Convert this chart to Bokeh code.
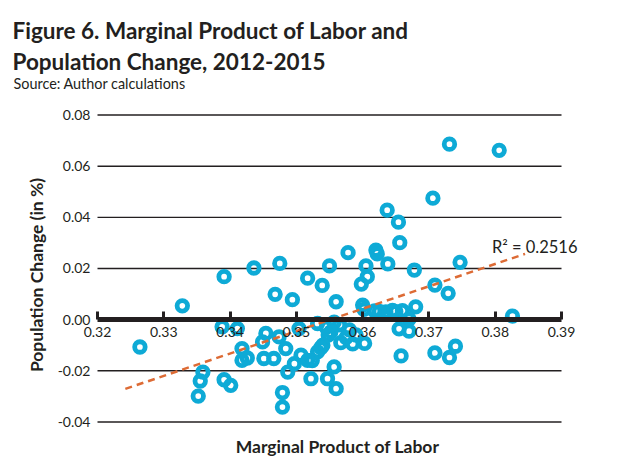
import numpy as np
from bokeh.plotting import figure
from bokeh.models import Label, Range1d, FixedTicker, NumeralTickFormatter
from bokeh.embed import file_html
from bokeh.resources import INLINE

# Marginal product of labor (x) and population change (y), one entry per area
mpl = [
    0.3731, 0.3806, 0.3706, 0.3637, 0.3654, 0.3656, 0.3578, 0.3620, 0.3622,
    0.3638, 0.3605, 0.3607, 0.3598, 0.3678, 0.3747, 0.3709, 0.3729, 0.3680,
    0.3826, 0.3391, 0.3436, 0.3475, 0.3550, 0.3517, 0.3539, 0.3468, 0.3494,
    0.3560, 0.3600, 0.3602, 0.3328, 0.3264,
    0.3618, 0.3635, 0.3650, 0.3660, 0.3645, 0.3670, 0.3625,
    0.3655, 0.3670, 0.3603, 0.3658, 0.3709, 0.3731, 0.3740,
    0.3557, 0.3565, 0.3545, 0.3580, 0.3552, 0.3575, 0.3590, 0.3567, 0.3548,
    0.3585, 0.3540, 0.3557, 0.3560, 0.3547, 0.3532, 0.3532, 0.3537, 0.3524,
    0.3522,
    0.3388, 0.3411, 0.3418, 0.3418, 0.3426, 0.3454, 0.3449, 0.3451, 0.3466,
    0.3474, 0.3484, 0.3504, 0.3497, 0.3487, 0.3507, 0.3517, 0.3479, 0.3479,
    0.3391, 0.3401, 0.3359, 0.3355, 0.3352,
]
pop_change = [
    0.0686, 0.0662, 0.0475, 0.0428, 0.0381, 0.0301, 0.0262, 0.0272, 0.0257,
    0.0218, 0.0210, 0.0168, 0.0139, 0.0194, 0.0224, 0.0135, 0.0103, 0.0050,
    0.0014, 0.0168, 0.0202, 0.0220, 0.0210, 0.0162, 0.0134, 0.0099, 0.0078,
    0.0070, 0.0057, 0.0040, 0.0054, -0.0107,
    0.0034, 0.0030, 0.0031, 0.0035, 0.0036, 0.0002, 0.0032,
    -0.0036, -0.0045, -0.0093, -0.0142, -0.0130, -0.0148, -0.0104,
    -0.0010, -0.0020, -0.0030, -0.0040, -0.0048, -0.0070, -0.0060, -0.0090, -0.0060,
    -0.0095, -0.0100, -0.0185, -0.0270, -0.0231, -0.0015, -0.0126, -0.0110, -0.0160,
    -0.0231,
    -0.0028, -0.0035, -0.0113, -0.0159, -0.0150, -0.0054, -0.0087, -0.0152, -0.0152,
    -0.0067, -0.0113, -0.0035, -0.0172, -0.0205, -0.0139, -0.0159, -0.0285, -0.0342,
    -0.0235, -0.0257, -0.0205, -0.0240, -0.0299,
]

x_ticks = [0.32, 0.33, 0.34, 0.35, 0.36, 0.37, 0.38, 0.39]
y_ticks = [-0.04, -0.02, 0.00, 0.02, 0.04, 0.06, 0.08]
r_squared = 0.2516
trend_x = [0.3242, 0.3845]

INK = "#231f20"
CYAN = "#0eaad6"
ORANGE = "#dd6b35"
FONT = "Lato"

W, H = 620, 464
# The plotting frame fills the whole canvas; the ranges are chosen so that the
# 0.32-0.39 by -0.04-0.08 box sits with room for headings around it.
p = figure(
    width=W, height=H,
    x_range=Range1d(0.305367, 0.398900), y_range=Range1d(-0.056641, 0.124792),
    output_backend="svg", toolbar_location=None,
    min_border=0, min_border_left=0, min_border_right=0,
    min_border_top=0, min_border_bottom=0,
)
p.outline_line_color = None
p.background_fill_color = "white"
p.border_fill_color = "white"
p.grid.visible = False

# horizontal rules at the y ticks (zero is covered by the x axis)
rule_y = [t for t in y_ticks if t != 0]
p.segment(x0=[x_ticks[0]] * len(rule_y), x1=[x_ticks[-1]] * len(rule_y),
          y0=rule_y, y1=rule_y, line_color=INK, line_width=1.4)

# y axis pinned at the left edge of the data box: labels only
p.yaxis.fixed_location = x_ticks[0]
p.yaxis.bounds = (-0.045, y_ticks[-1])
p.yaxis.ticker = FixedTicker(ticks=y_ticks)
p.yaxis.formatter = NumeralTickFormatter(format="0.00")
p.yaxis.axis_line_color = None
p.yaxis.major_tick_line_color = None
p.yaxis.minor_tick_line_color = None
p.yaxis.major_tick_in = 0
p.yaxis.major_tick_out = 0
p.yaxis.major_label_standoff = 7
p.yaxis.major_label_text_font = FONT
p.yaxis.major_label_text_font_size = "14px"
p.yaxis.major_label_text_color = INK
p.yaxis.axis_label = "Population Change (in %)"
p.yaxis.axis_label_text_font = FONT
p.yaxis.axis_label_text_font_style = "bold"
p.yaxis.axis_label_text_font_size = "17.5px"
p.yaxis.axis_label_text_color = INK
p.yaxis.axis_label_standoff = 8

# x axis crosses at y = 0
p.xaxis.fixed_location = 0
p.xaxis.bounds = (x_ticks[0], x_ticks[-1])
p.xaxis.ticker = FixedTicker(ticks=x_ticks)
p.xaxis.formatter = NumeralTickFormatter(format="0.00")
p.xaxis.axis_line_color = INK
p.xaxis.axis_line_width = 5
p.xaxis.major_tick_in = 8
p.xaxis.major_tick_out = 0
p.xaxis.major_tick_line_width = 3
p.xaxis.major_tick_line_color = INK
p.xaxis.minor_tick_line_color = None
p.xaxis.major_label_standoff = 7
p.xaxis.major_label_text_font = FONT
p.xaxis.major_label_text_font_size = "14px"
p.xaxis.major_label_text_color = INK

# scatter of areas
p.scatter(mpl, pop_change, marker="circle", size=10.5, fill_color=None,
          line_color=CYAN, line_width=4.8)

# least-squares trend line
slope, intercept = np.polyfit(mpl, pop_change, 1)
trend_y = [slope * x + intercept for x in trend_x]
p.line(trend_x, trend_y, line_color=ORANGE, line_width=2.5, line_dash="7 5")

p.add_layout(Label(x=0.3795, y=0.0283, text=f"R\u00b2 = {r_squared}",
                   text_font=FONT, text_font_size="16.5px", text_color=INK,
                   text_baseline="alphabetic"))

# headings and x-axis caption, in pixels from the bottom-left corner
def caption(text, x, y, size, style="normal", align="left"):
    p.add_layout(Label(x=x, y=y, x_units="screen", y_units="screen", text=text,
                       text_font=FONT, text_font_size=size, text_font_style=style,
                       text_color=INK, text_align=align,
                       text_baseline="alphabetic"))

caption("Figure 6. Marginal Product of Labor and", 12, H - 29.5, "22.5px", "bold")
caption("Population Change, 2012-2015", 12, H - 61, "22.5px", "bold")
caption("Source: Author calculations", 13, H - 83, "14.4px")
caption("Marginal Product of Labor", 337, H - 446, "17.5px", "bold", "center")

open("out.html", "w").write(file_html(p, INLINE))
